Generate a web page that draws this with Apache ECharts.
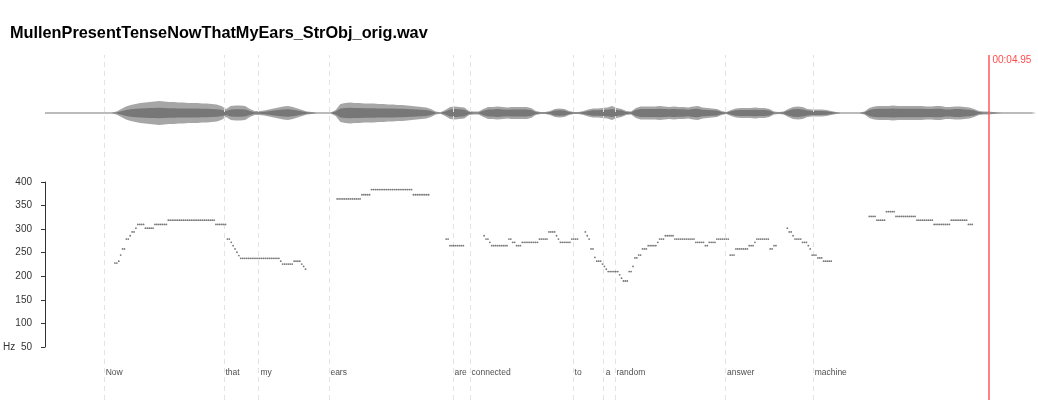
<!DOCTYPE html>
<html>
<head>
<meta charset="utf-8">
<script src="https://cdn.jsdelivr.net/npm/echarts@6/dist/echarts.min.js"></script>
<style>
  html, body { margin: 0; padding: 0; background: #fff; }
  #chart { width: 1038px; height: 405px; }
</style>
</head>
<body>
<div id="chart"></div>
<script>
// ---- data ----
const fileName = 'MullenPresentTenseNowThatMyEars_StrObj_orig.wav';
const duration = 5.21;      // seconds shown across the plot
const cursorTime = 4.95;    // red playhead
const cursorLabel = '00:04.95';

const words = ['Now', 'that', 'my', 'ears', 'are', 'connected', 'to', 'a', 'random', 'answer', 'machine'];
const wordStarts = [0.308, 0.936, 1.120, 1.487, 2.138, 2.227, 2.768, 2.931, 2.988, 3.568, 4.028];

const hzTicks = [50, 100, 150, 200, 250, 300, 350, 400];

// waveform envelope, one value every 25 ms (peak and rms, same units)
const waveStep = 0.025;
const wavePeak = [
  0.4,0.4,0.4,0.4,0.4,0.4,0.4,0.4,0.4,0.4,
  0.4,0.4,0.4,0.4,0.4,1.5,4,6.5,8,9,
  10,10.5,11,11.5,12,11.5,11,11,10.5,10.5,
  10,10,10,9.5,9.5,9,8.5,7,4,7,
  7.5,7.5,7,4,2,2,2.5,3.5,4.5,5.5,
  6.5,7,6,4.5,3,1.5,1,0.5,0.5,0.5,
  0.5,3,9,10,10.5,10,10,9.5,9.5,9.5,
  9,9,8.5,8.5,8,8,7.5,7,6.5,6,
  5.5,4,1.5,0.8,3,6,6.5,6,5.5,2,
  1.5,1.5,4,6,6,6.5,6,5.5,6,6,
  6,6,5,2,1,1,2,4,4.5,4,
  2,1,1,2,3.5,4.5,4.5,5,5.5,7,
  5,4,2,1.5,5,6.5,6.5,6.5,6.5,7,
  6.5,6,6.5,6,6,5.5,6.5,7,5.5,5,
  4.5,4,2,1,3,4.5,5,5,5,5.5,
  5,5,4,1.5,1,1.5,4,6,6.5,6,
  4,3.5,3.5,3.5,3,2,1,0.5,0.5,0.5,
  0.5,0.5,1.5,5,6.5,7,7,7,7.5,7,
  7,7,7,7,7,6.5,6.5,7,7,6,
  6,6.5,6.5,6,5.5,4,2,1.5,1.5,1,
  0.8,0.4,0.4,0.4,0.4,0.4,0.4,0.4,0.4
];
const waveRms = [
  0.2,0.2,0.2,0.2,0.2,0.2,0.2,0.2,0.2,0.2,
  0.2,0.2,0.2,0.2,0.2,0.6,1.8,3,3.8,4.2,
  4.5,4.8,5,5,5.2,5,4.8,4.8,4.6,4.6,
  4.4,4.4,4.4,4.2,4.2,4,3.8,3.2,2,3.5,
  3.8,3.8,3.5,2,0.8,0.8,1.2,1.8,2.4,3,
  3.5,3.8,3.2,2.4,1.5,0.7,0.4,0.2,0.2,0.2,
  0.2,1.5,4.5,5,5.2,5,5,4.8,4.8,4.8,
  4.6,4.6,4.4,4.4,4.2,4.2,4,3.8,3.5,3.2,
  3,2,0.6,0.3,1.5,3.5,4,3.8,3.2,1,
  0.6,0.6,2.2,3.6,3.6,4,3.6,3.3,3.6,3.6,
  3.6,3.6,3,1,0.4,0.4,1,2.4,2.8,2.4,
  1,0.4,0.4,1,2,2.8,2.8,3,3.3,4,
  3,2.4,1,0.7,3,4,4,4,4,4.3,
  4,3.7,4,3.7,3.7,3.3,4,4.3,3.3,3,
  2.7,2.4,1,0.4,1.8,2.8,3,3,3,3.3,
  3,3,2.4,0.6,0.4,0.7,2.4,3.7,4,3.6,
  2.4,2,2,2,1.8,1,0.4,0.2,0.2,0.2,
  0.2,0.2,0.7,3,4,4.3,4.3,4.3,4.6,4.3,
  4.3,4.3,4.3,4.3,4.3,4,4,4.3,4.3,3.6,
  3.6,4,4,3.6,3.3,2.4,1,0.6,0.6,0.4,
  0.3,0.2,0.2,0.2,0.2,0.2,0.2,0.2,0.2
];

// pitch track (Hz), one value every 10 ms, per voiced stretch
const pitchStep = 0.01;
const pitchStarts = [0.367, 1.533, 2.105, 2.304, 2.835, 3.895, 4.325];
const pitchNowThatMy = [
  228,228,232,245,258,258,279,279,286,294,294,302,
  310,310,310,310,
  302,302,302,302,302,
  310,310,310,310,310,310,310,
  319,319,319,319,319,319,319,319,319,319,319,319,319,319,319,319,319,319,319,319,319,319,319,319,319,
  310,310,310,310,310,310,
  279,279,272,265,258,251,244,
  238,238,238,238,238,238,238,238,238,238,238,238,238,238,238,238,238,238,238,238,238,
  232,
  226,226,226,226,226,226,
  232,232,232,232,
  226,221,215
];
const pitchEars = [
  364,364,364,364,364,364,364,364,364,364,364,364,364,
  373,373,373,373,373,
  384,384,384,384,384,384,384,384,384,384,384,384,384,384,384,384,384,384,384,384,384,384,
  373,373,373,373,373,373,373,373,373
];
const pitchAre = [279,279,265,265,265,265,265,265,265,265];
const pitchConnected = [
  286,279,279,272,
  265,265,265,265,265,265,265,265,265,
  279,279,272,272,265,265,265,
  272,272,272,272,272,272,272,272,272,
  279,279,279,279,279,
  294,294,294,294,
  286,279,
  272,272,272,272,272,272,
  279,279,279,279
];
const pitchToARandomAnswer = [
  294,286,279,258,258,240,232,232,232,226,221,215,
  210,210,210,210,210,210,
  203,196,190,190,190,
  210,210,221,239,239,245,245,258,258,258,
  265,265,265,265,265,
  272,279,279,279,
  286,286,286,286,286,
  279,279,279,279,279,279,279,279,279,279,279,
  272,272,272,272,272,
  265,265,
  272,272,272,272,
  279,279,279,279,279,279,279,
  245,245,245,
  258,258,258,258,258,258,258,
  265,265,265,
  272,
  279,279,279,279,279,279,279,
  258,258,265,265
];
const pitchMachine = [
  302,294,294,286,279,279,279,279,272,272,272,265,258,
  245,245,245,239,239,239,232,232,232,232,232
];
const pitchLast = [
  327,327,327,327,
  319,319,319,319,319,
  337,337,337,337,337,
  327,327,327,327,327,327,327,327,327,327,327,
  319,319,319,319,319,319,319,319,319,
  310,310,310,310,310,310,310,310,310,
  319,319,319,319,319,319,319,319,319,
  310,310,310
];
const pitchSegments = [pitchNowThatMy, pitchEars, pitchAre, pitchConnected, pitchToARandomAnswer, pitchMachine, pitchLast];

// ---- build ----
const FONT = '"Liberation Sans", Arial, Helvetica, sans-serif';
const PLOT_LEFT = 45;     // px where time 0 sits
const PLOT_W = 1038 - PLOT_LEFT;
const AXIS_GAP = 5;       // Hz axis sits this many px left of time 0
const WORD_Y = 0.078;     // height of word labels inside the overlay grid
const CURSOR_Y = 0.984;   // height of the cursor label inside the overlay grid

const pitchPoints = [];
pitchSegments.forEach((seg, s) => {
  seg.forEach((hz, i) => pitchPoints.push([pitchStarts[s] + i * pitchStep, hz]));
});

const envelope = (arr, sign) => arr.map((v, k) => [k * waveStep, sign * v]);

function band(data, color) {
  return {
    type: 'line', xAxisIndex: 0, yAxisIndex: 0, data: data,
    showSymbol: false, silent: true, z: 3,
    lineStyle: { width: 0 },
    areaStyle: { color: color, opacity: 1, origin: 0 }
  };
}

const chart = echarts.init(document.getElementById('chart'), null, { renderer: 'canvas' });

const xCommon = { type: 'value', min: 0, max: duration, show: false };

chart.setOption({
  animation: false,
  backgroundColor: '#fff',
  textStyle: { fontFamily: FONT },
  title: {
    text: fileName, left: 5, top: 21,
    textStyle: { fontSize: 16.3, fontWeight: 'bold', color: '#000', fontFamily: FONT }
  },
  grid: [
    { left: PLOT_LEFT, right: 0, top: 91, height: 44, outerBoundsMode: 'none' },
    { left: PLOT_LEFT - AXIS_GAP, right: 0, top: 182, height: 165, outerBoundsMode: 'none' },
    { left: PLOT_LEFT, right: 0, top: 55, height: 345, outerBoundsMode: 'none' }
  ],
  xAxis: [
    Object.assign({ gridIndex: 0 }, xCommon),
    { gridIndex: 1, type: 'value', min: -duration * AXIS_GAP / PLOT_W, max: duration, show: false },
    Object.assign({ gridIndex: 2 }, xCommon)
  ],
  yAxis: [
    { gridIndex: 0, type: 'value', min: -22, max: 22, show: false },
    {
      gridIndex: 1, type: 'value', min: hzTicks[0], max: hzTicks[hzTicks.length - 1], interval: 50,
      axisLine: { show: true, lineStyle: { color: '#333', width: 1 } },
      axisTick: { show: true, length: 4, lineStyle: { color: '#333' } },
      splitLine: { show: false },
      axisLabel: {
        fontSize: 10, color: '#333', margin: 8, fontFamily: FONT,
        formatter: v => (v === hzTicks[0] ? 'Hz  ' + v : String(v))
      }
    },
    { gridIndex: 2, type: 'value', min: 0, max: 1, show: false }
  ],
  series: [
    // word boundaries and labels
    {
      type: 'scatter', xAxisIndex: 2, yAxisIndex: 2, z: 1, silent: true,
      symbolSize: 0,
      data: wordStarts.map((t, i) => ({ value: [t, WORD_Y], name: words[i] })),
      label: {
        show: true, position: 'right', distance: 2,
        formatter: p => p.name, fontSize: 8.5, color: '#222', fontFamily: FONT
      },
      markLine: {
        silent: true, symbol: ['none', 'none'], label: { show: false },
        lineStyle: { type: [5, 4], color: '#e3e3e3', width: 1 },
        data: wordStarts.map(t => ({ xAxis: t }))
      }
    },
    // waveform
    band(envelope(wavePeak, 1), '#a6a6a6'),
    band(envelope(wavePeak, -1), '#a6a6a6'),
    band(envelope(waveRms, 1), '#777777'),
    band(envelope(waveRms, -1), '#777777'),
    // pitch
    {
      type: 'scatter', xAxisIndex: 1, yAxisIndex: 1, z: 5, silent: true,
      symbol: 'circle', symbolSize: 1.8,
      itemStyle: { color: '#555' },
      data: pitchPoints
    },
    // playhead
    {
      type: 'scatter', xAxisIndex: 2, yAxisIndex: 2, z: 6, silent: true,
      symbolSize: 0,
      data: [{ value: [cursorTime, CURSOR_Y], name: cursorLabel }],
      label: {
        show: true, position: 'right', distance: 4,
        formatter: p => p.name, fontSize: 10, color: '#ff1a1a', fontFamily: FONT
      },
      markLine: {
        silent: true, symbol: ['none', 'none'], label: { show: false },
        lineStyle: { type: 'solid', color: '#ff5a5a', width: 1.5 },
        data: [{ xAxis: cursorTime }]
      }
    }
  ]
});
</script>
</body>
</html>
